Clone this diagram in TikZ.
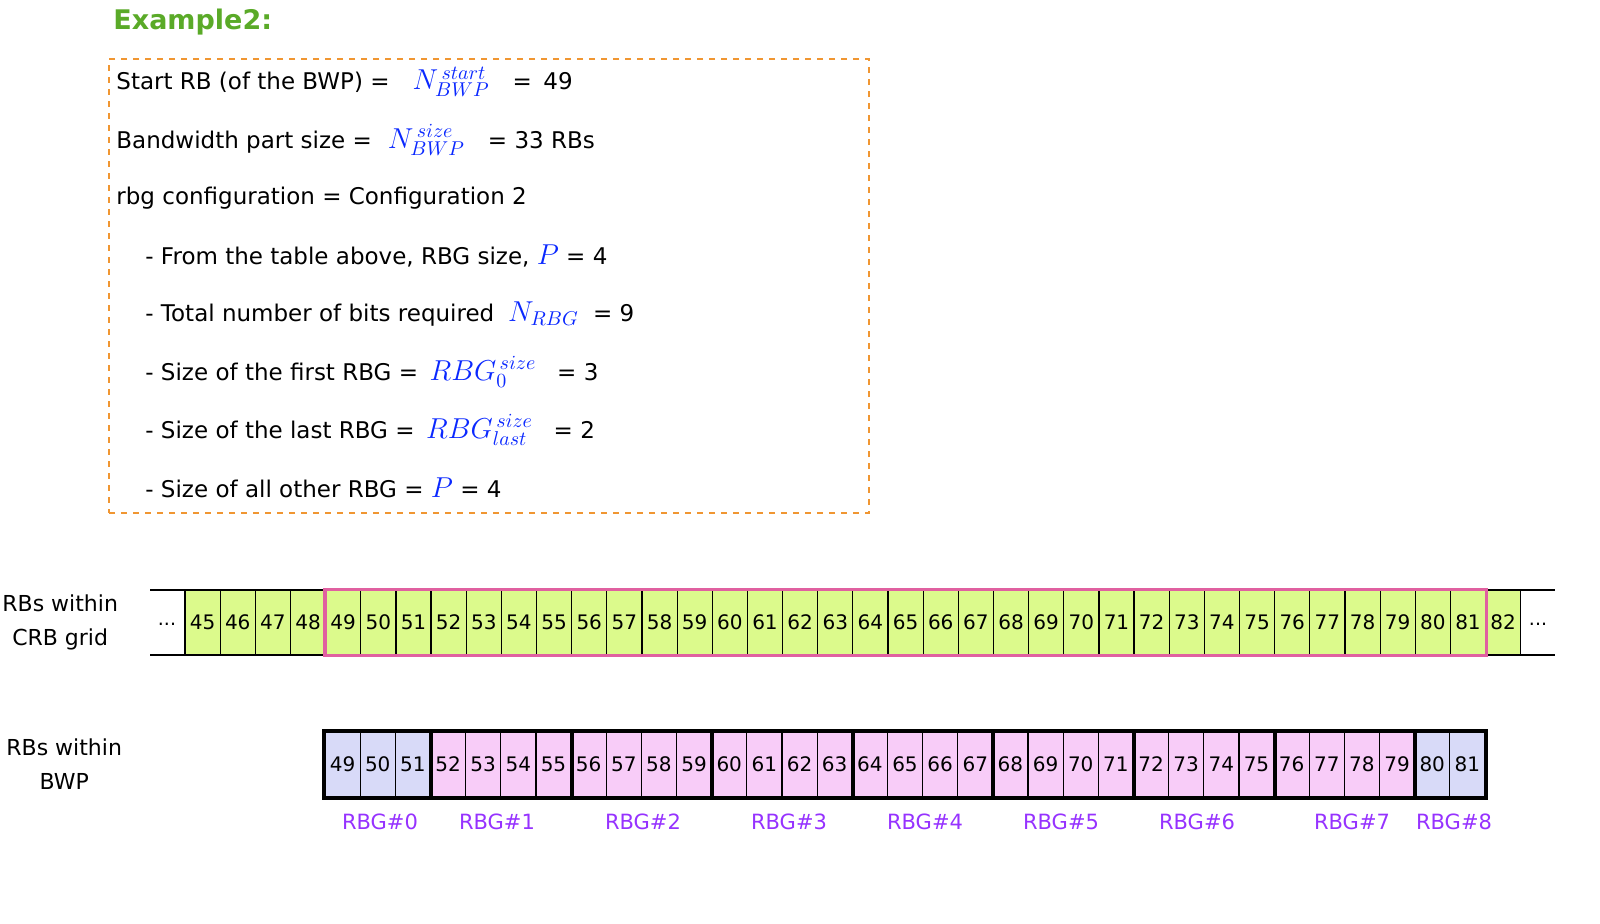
\documentclass[tikz,border=0pt]{standalone}
\usepackage{fontspec}
\setmainfont{DejaVu Sans}
\begin{document}
\begin{tikzpicture}[x=0.5pt,y=-0.5pt,
  txt/.style={anchor=west,inner sep=0pt,font=\fontsize{11.5}{13}\selectfont},
  cell/.style={draw=black,line width=0.6pt,minimum width=17.575pt,minimum height=32.5pt,inner sep=0pt,font=\fontsize{10}{11}\selectfont},
  lab/.style={font=\fontsize{10.5}{12}\selectfont,text=rbgc,inner sep=0pt},
  side/.style={font=\fontsize{11}{13}\selectfont,align=center,inner sep=0pt}]
\definecolor{mblue}{RGB}{10,40,255}
\definecolor{tgreen}{RGB}{90,170,40}
\definecolor{gcell}{RGB}{220,250,140}
\definecolor{pcell}{RGB}{248,204,248}
\definecolor{lcell}{RGB}{216,218,248}
\definecolor{pborder}{RGB}{224,96,160}
\definecolor{rbgc}{RGB}{150,50,255}
\definecolor{orng}{RGB}{240,150,50}
\newcommand{\mm}[1]{{\color{mblue}\fontsize{14.5}{16}\selectfont$#1$}}
\useasboundingbox (0,0) rectangle (1600,923);
\node[anchor=west,inner sep=0pt,font=\fontsize{13.5}{15}\selectfont\bfseries,text=tgreen] (title) at (113,22) {Example2:};
\node[draw=orng,dashed,line width=1.2pt,minimum width=380pt,minimum height=227pt,anchor=north west,inner sep=0pt] (box) at (108,58) {};
\node[txt] (l1) at (116,82) {Start RB (of the BWP) =\hspace{1em}\mm{N_{BWP}^{\,start}}\hspace{1em}=\hspace{0.5em}49};
\node[txt] (l2) at (116,140) {Bandwidth part size =\hspace{0.7em}\mm{N_{BWP}^{\,size}}\hspace{1em}= 33 RBs};
\node[txt] (l3) at (116,198) {rbg configuration = Configuration 2};
\node[txt] (l4) at (145,256) {- From the table above, RBG size, \mm{P} = 4};
\node[txt] (l5) at (145,314) {- Total number of bits required\hspace{0.6em}\mm{N_{RBG}}\hspace{0.3em} = 9};
\node[txt] (l6) at (145,372) {- Size of the first RBG =\hspace{0.5em}\mm{RBG_0^{\,size}}\hspace{0.9em}= 3};
\node[txt] (l7) at (145,430) {- Size of the last RBG =\hspace{0.5em}\mm{RBG_{last}^{\,size}}\hspace{0.9em}= 2};
\node[txt] (l8) at (145,488) {- Size of all other RBG = \mm{P} = 4};
% side labels
\node[side,anchor=west] (s1) at (2,622) {RBs within\\[4pt]CRB grid};
\node[side,anchor=west] (s2) at (6,764) {RBs within\\[4pt]BWP};
% top row
\draw[line width=0.6pt] (150,590) -- (185,590) (150,655) -- (185,655);
\node[font=\fontsize{9.5}{11}\selectfont] (ell1) at (167,624) {...};
\foreach \n [count=\i from 0] in {45,...,82}{
  \node[cell,fill=gcell] (t\n) at ({185+35.15*(\i+0.5)},622.5) {\n};
}
\draw[line width=0.6pt] (1520,590) -- (1555,590) (1520,655) -- (1555,655);
\node[font=\fontsize{9.5}{11}\selectfont] (ell2) at (1538,624) {...};
\draw[pborder,line width=1.6pt] (t49.north west) rectangle (t81.south east);
% bottom row
\foreach \n [count=\i from 0] in {49,...,81}{
  \ifnum\n<52 \def\cc{lcell}\else\ifnum\n>79 \def\cc{lcell}\else\def\cc{pcell}\fi\fi
  \node[cell,fill=\cc] (b\n) at ({325+35.15*(\i+0.5)},764.5) {\n};
}
\draw[line width=2pt] (b49.north west) rectangle (b81.south east);
\foreach \n in {51,55,59,63,67,71,75,79}{
  \draw[line width=2pt] (b\n.north east) -- (b\n.south east);
}
\foreach \t/\x in {0/380,1/497,2/643,3/789,4/925,5/1061,6/1197,7/1352,8/1454}{
  \node[lab] (r\t) at (\x,822) {RBG\#\t};
}
\end{tikzpicture}
\end{document}
